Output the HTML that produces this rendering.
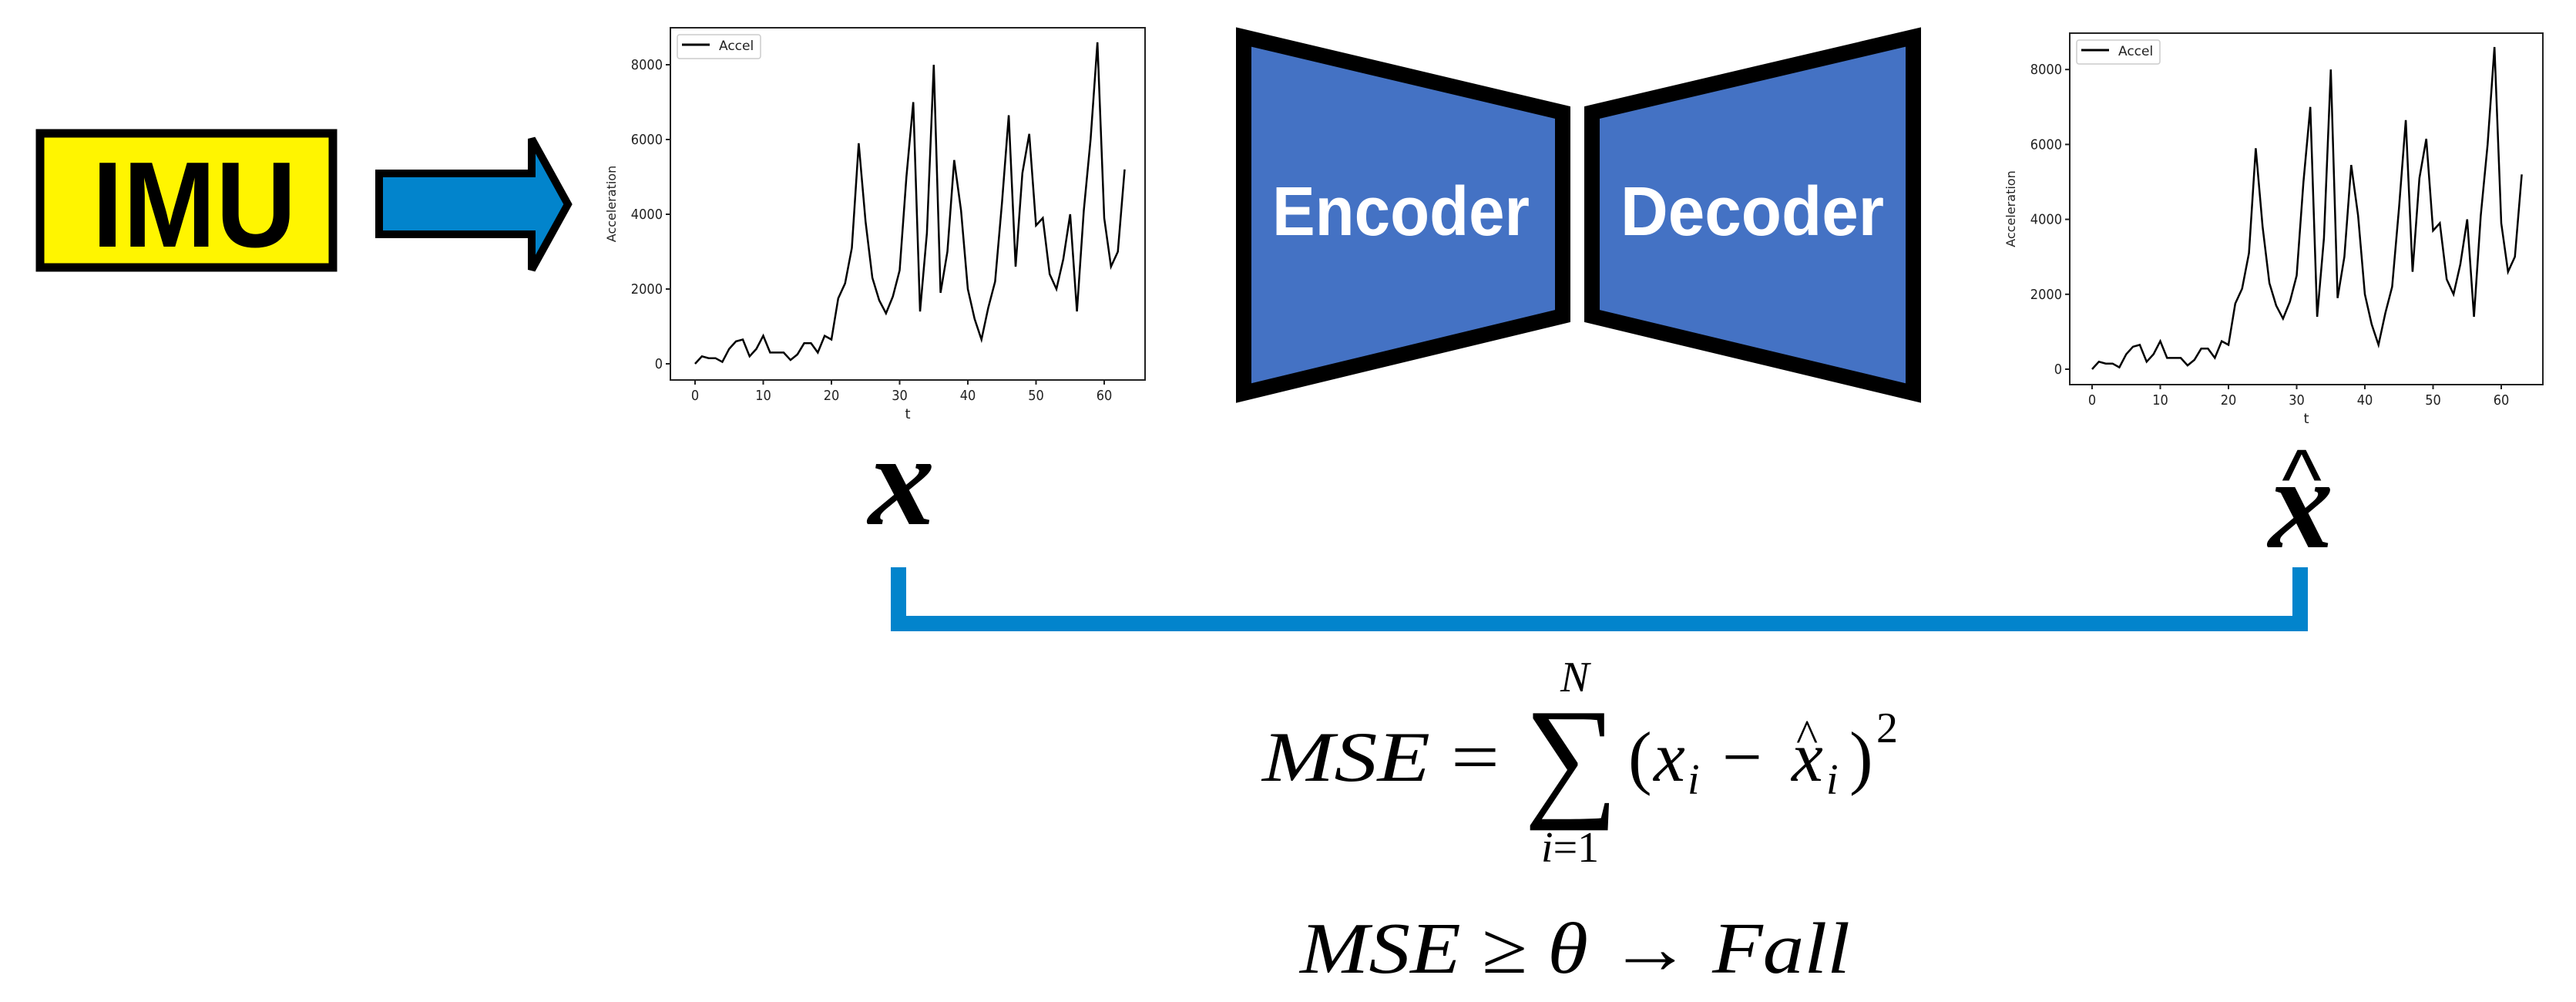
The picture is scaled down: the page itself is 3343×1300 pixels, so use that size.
<!DOCTYPE html>
<html><head><meta charset="utf-8"><style>
html,body{margin:0;padding:0;background:#fff;}
svg{display:block}
</style></head><body>
<svg id="s" xmlns="http://www.w3.org/2000/svg" width="3343" height="1300" viewBox="0 0 3343 1300">
<rect width="3343" height="1300" fill="#fff"/>
<!-- IMU box -->
<rect x="52" y="173" width="380" height="174" fill="#fff500" stroke="#000" stroke-width="11"/>
<text x="252" y="320" font-family="Liberation Sans, sans-serif" font-weight="bold" font-size="158" text-anchor="middle" textLength="265" lengthAdjust="spacingAndGlyphs" fill="#000">IMU</text>
<!-- arrow -->
<polygon points="492,225 690,225 690,180 737,265 690,350 690,304 492,304" fill="#0284cc" stroke="#000" stroke-width="10" stroke-linejoin="miter"/>
<!-- encoder/decoder -->
<polygon points="1614,48 2028,146 2028,410 1614,510" fill="#4472c4" stroke="#000" stroke-width="20"/>
<polygon points="2066,146 2483,48 2483,510 2066,410" fill="#4472c4" stroke="#000" stroke-width="20"/>
<text x="1818" y="305" font-family="Liberation Sans, sans-serif" font-weight="bold" font-size="90" text-anchor="middle" textLength="334" lengthAdjust="spacingAndGlyphs" fill="#fff">Encoder</text>
<text x="2274" y="305" font-family="Liberation Sans, sans-serif" font-weight="bold" font-size="90" text-anchor="middle" textLength="342" lengthAdjust="spacingAndGlyphs" fill="#fff">Decoder</text>
<g id="p1"></g><g id="p2"></g>
<!-- x and xhat -->
<text x="1127" y="680" font-family="Liberation Serif, serif" font-style="italic" font-weight="bold" font-size="170" textLength="86" lengthAdjust="spacingAndGlyphs" fill="#000">x</text>
<text x="2944" y="710" font-family="Liberation Serif, serif" font-style="italic" font-weight="bold" font-size="170" textLength="84" lengthAdjust="spacingAndGlyphs" fill="#000">x</text>
<text x="2987" y="660" font-family="Liberation Sans, sans-serif" font-size="110" text-anchor="middle" fill="#000">^</text>
<!-- bracket -->
<polyline points="1166,736 1166,809 2985,809 2985,736" fill="none" stroke="#0284cc" stroke-width="20"/>
<!-- formula 1 -->
<g font-family="Liberation Serif, serif" fill="#000">
<text x="1638" y="1013" font-size="92" font-style="italic" textLength="218" lengthAdjust="spacingAndGlyphs">MSE</text>
<text x="1883" y="1013" font-size="92" textLength="63" lengthAdjust="spacingAndGlyphs">=</text>
<text x="1978" y="1040" font-size="175" textLength="122" lengthAdjust="spacingAndGlyphs">∑</text>
<text x="2025" y="897" font-size="56" font-style="italic">N</text>
<text x="2000" y="1118" font-size="56"><tspan font-style="italic">i</tspan>=1</text>
<text x="2113" y="1013" font-size="92">(</text>
<text x="2146" y="1013" font-size="92" font-style="italic">x</text>
<text x="2190" y="1030" font-size="56" font-style="italic">i</text>
<text x="2235" y="1013" font-size="92">−</text>
<text x="2325" y="1013" font-size="92" font-style="italic">x</text>
<text x="2331" y="975" font-size="60">^</text>
<text x="2370" y="1030" font-size="56" font-style="italic">i</text>
<text x="2400" y="1013" font-size="92">)</text>
<text x="2435" y="963" font-size="56">2</text>
<text x="1687" y="1262" font-size="94" font-style="italic" textLength="714" lengthAdjust="spacingAndGlyphs">MSE ≥ θ → Fall</text>
</g>
</svg>
<script>
var v=[0,200,150,150,50,400,600,650,200,400,750,300,300,300,100,250,550,550,300,750,650,1750,2150,3100,5900,3800,2300,1700,1350,1800,2500,5000,7000,1400,3500,8000,1900,3000,5450,4100,2000,1200,650,1500,2200,4300,6650,2600,5100,6150,3700,3900,2400,2000,2800,4000,1400,4100,6000,8600,3900,2600,3000,5200];
function plot(id,fx,fy,fw,fh,x0,y0,sy){
 var g=document.getElementById(id),h='';
 h+='<rect x="'+fx+'" y="'+fy+'" width="'+fw+'" height="'+fh+'" fill="#fff" stroke="#222" stroke-width="2"/>';
 var pts=v.map(function(a,i){return (x0+8.85*i).toFixed(1)+','+(y0-a*sy).toFixed(1)}).join(' ');
 h+='<polyline points="'+pts+'" fill="none" stroke="#000" stroke-width="2.5"/>';
 for(var k=0;k<=8000;k+=2000){var y=y0-k*sy;h+='<line x1="'+(fx-6)+'" y1="'+y+'" x2="'+fx+'" y2="'+y+'" stroke="#222" stroke-width="2"/>';
  h+='<text x="'+(fx-10)+'" y="'+(y+6)+'" font-size="18" text-anchor="end" font-family="DejaVu Sans Condensed,DejaVu Sans,sans-serif" fill="#222">'+k+'</text>';}
 for(var t=0;t<=60;t+=10){var x=x0+8.85*t;h+='<line x1="'+x+'" y1="'+(fy+fh)+'" x2="'+x+'" y2="'+(fy+fh+6)+'" stroke="#222" stroke-width="2"/>';
  h+='<text x="'+x+'" y="'+(fy+fh+26)+'" font-size="18" text-anchor="middle" font-family="DejaVu Sans Condensed,DejaVu Sans,sans-serif" fill="#222">'+t+'</text>';}
 h+='<text x="'+(fx+fw/2)+'" y="'+(fy+fh+50)+'" font-size="18" text-anchor="middle" font-family="DejaVu Sans,sans-serif" fill="#222">t</text>';
 var ly=fy+(fh)/2;
 h+='<text transform="translate('+(fx-71)+','+ly+') rotate(-90)" font-size="16" text-anchor="middle" font-family="DejaVu Sans,sans-serif" fill="#222">Acceleration</text>';
 h+='<rect x="'+(fx+9)+'" y="'+(fy+9)+'" width="108" height="31" rx="3" fill="#fff" stroke="#ccc" stroke-width="1.5"/>';
 h+='<line x1="'+(fx+15)+'" y1="'+(fy+22)+'" x2="'+(fx+51)+'" y2="'+(fy+22)+'" stroke="#000" stroke-width="3"/>';
 h+='<text x="'+(fx+63)+'" y="'+(fy+29)+'" font-size="17" font-family="DejaVu Sans,sans-serif" fill="#222">Accel</text>';
 g.innerHTML=h;
}
plot('p1',870,36,616,457,902,472,0.0485);
plot('p2',2686,43,614,456,2715,479,0.0486);
</script>
</body></html>
